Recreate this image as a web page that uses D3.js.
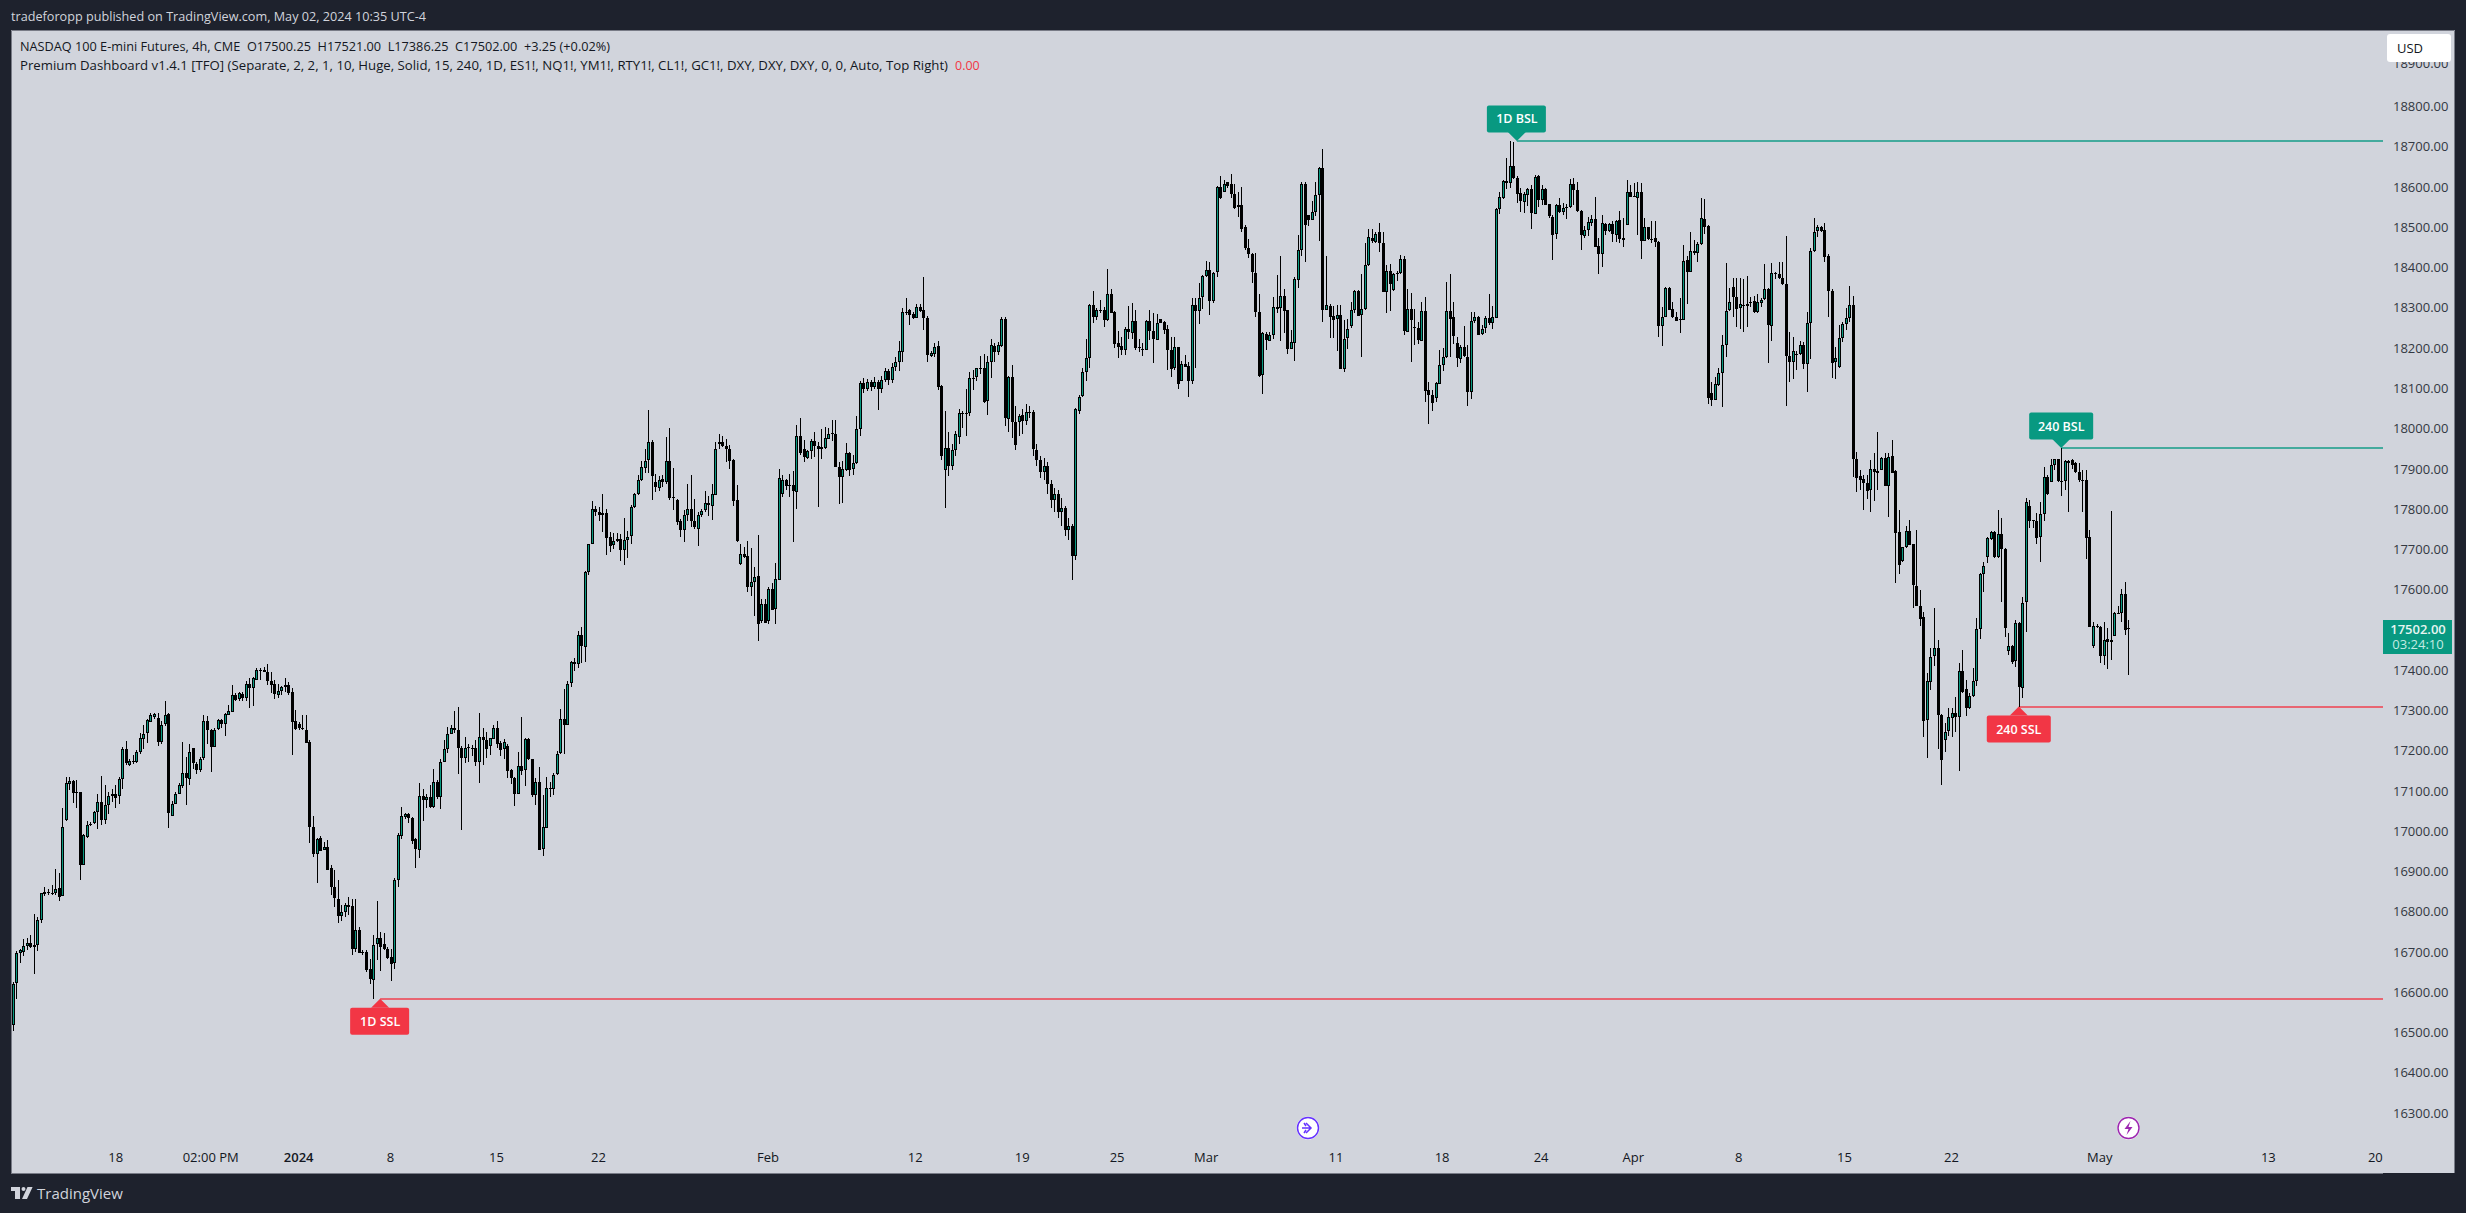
<!DOCTYPE html>
<html>
<head>
<meta charset="utf-8">
<title>NQ1! 4h</title>
<script src="https://d3js.org/d3.v7.min.js"></script>
<style>
  html, body { margin: 0; padding: 0; background: #1e222d; overflow: hidden; }
  text { font-family: "Open Sans", Roboto, sans-serif; }
</style>
</head>
<body>
<svg id="chart" width="2466" height="1213"></svg>
<script>
// each row is [open, close, high, low]
const decBars = [
[16516,16619,16622,16501],[16619,16694,16700,16580],[16694,16702,16706,16670],[16698,16713,16730,16687],[16713,16720,16731,16702],[16720,16710,16739,16708],[16715,16710,16793,16644],[16713,16776,16785,16700],[16775,16843,16845,16770],[16841,16847,16859,16837],
[16846,16843,16854,16840],[16845,16842,16863,16838],[16845,16855,16903,16840],[16857,16835,16893,16824],[16837,17008,17054,16837],[17023,17116,17131,17023],[17116,17123,17131,17100],[17123,17093,17125,17068],[17095,17094,17125,17056],[17095,16914,17096,16876],
[16914,16989,16990,16913],[16983,17014,17023,16980],[17013,17016,17020,17010],[17016,17044,17048,17016],[17044,17069,17091,17002],[17069,17025,17134,17012],[17025,17062,17112,17016],[17064,17086,17095,17041],[17086,17091,17103,17070],[17091,17081,17112,17055],
[17083,17126,17132,17064],[17126,17201,17207,17102],[17201,17167,17221,17161],[17161,17171,17178,17160],[17173,17172,17186,17165],[17170,17194,17199,17167],[17192,17228,17242,17189],[17227,17240,17261,17201],[17240,17273,17277,17217],[17270,17287,17290,17269],
[17281,17288,17292,17275],[17279,17219,17290,17209],[17219,17262,17270,17213],[17262,17285,17320,17260],[17288,17041,17291,17006],[17036,17066,17073,17036],[17066,17091,17095,17064],[17089,17112,17116,17089],[17108,17141,17218,17106],[17141,17128,17182,17062],
[17128,17194,17213,17112],[17203,17165,17205,17153],[17165,17150,17170,17139],[17150,17178,17182,17145],[17178,17271,17287,17174],[17271,17248,17284,17214],[17250,17209,17252,17145],[17209,17250,17255,17209],[17250,17273,17275,17250],[17273,17262,17276,17255],
[17262,17288,17292,17233],[17285,17295,17310,17285],[17295,17337,17360,17296],[17337,17325,17340,17321],[17325,17340,17344,17321],[17338,17327,17342,17322],[17327,17362,17370,17322],[17362,17351,17377,17304],[17351,17377,17380,17308],[17375,17399,17404,17375],
[17399,17398,17402,17373],[17399,17394,17406,17393],[17394,17371,17412,17360],[17371,17361,17393,17341],[17362,17336,17374,17325],[17336,17346,17364,17329],[17346,17356,17358,17335],[17356,17360,17379,17344],[17360,17341,17368,17337],[17344,17269,17352,17186],
[17271,17250,17298,17248],[17263,17253,17269,17250],[17255,17254,17285,17250],[17250,17217,17285,17217],[17218,17008,17224,16967],[17008,16941,17036,16934],[16942,16979,16981,16869],[16981,16949,16985,16949],[16950,16957,16971,16950],[16957,16901,16975,16901],
[16905,16859,16913,16838],[16858,16830,16900,16810],[16830,16788,16876,16770],[16788,16797,16814,16775],[16797,16815,16818,16785],[16815,16811,16833,16789],[16811,16704,16830,16691],[16705,16751,16830,16698],[16751,16695,16760,16694],[16697,16695,16702,16690],
[16698,16654,16702,16648],[16656,16630,16681,16617],[16630,16716,16739,16581],[16718,16733,16823,16677],[16733,16710,16747,16650],[16717,16704,16745,16702],[16706,16683,16710,16681],[16684,16667,16706,16626],[16669,16876,16880,16655],[16875,16988,16992,16859],
[16986,17035,17058,16978],[17033,17041,17043,17027],[17041,17031,17043,17018],[17031,16975,17033,16965],[16977,16952,16980,16906],[16952,17086,17116,16932],[17086,17076,17103,17023],[17076,17083,17089,17056],[17083,17058,17112,17054],[17058,17120,17153,17056],
[17120,17083,17124,17077],[17083,17170,17178,17052],[17170,17202,17224,17170],[17202,17240,17257,17192]
];

const janBars = [
[17240,17255,17261,17240],[17255,17250,17296,17242],[17250,17205,17305,17139],[17205,17180,17208,17000],[17180,17205,17232,17166],[17206,17205,17213,17170],[17205,17204,17211,17184],[17205,17170,17225,17160],[17170,17232,17290,17116],[17232,17225,17253,17162],
[17225,17203,17244,17180],[17208,17228,17230,17186],[17228,17255,17261,17228],[17255,17215,17271,17203],[17217,17200,17222,17184],[17200,17218,17226,17178],[17209,17148,17213,17130],[17149,17129,17153,17115],[17129,17090,17133,17060],[17090,17160,17195,17090],
[17160,17148,17280,17137],[17148,17226,17228,17110],[17226,17176,17230,17174],[17176,17087,17178,17083],[17087,17119,17130,17062],[17119,16951,17156,16950],[16953,17007,17088,16936],[17006,17106,17131,17005],[17105,17104,17120,17083],[17104,17138,17142,17087],
[17138,17188,17197,17137],[17190,17275,17302,17190],[17275,17261,17350,17189],[17262,17364,17371,17262],[17364,17417,17420,17356],[17417,17412,17428,17396],[17412,17484,17494,17402],[17484,17456,17504,17416],[17456,17642,17644,17418],[17642,17712,17712,17634],
[17713,17799,17817,17713],[17799,17791,17805,17780],[17791,17783,17803,17769],[17783,17789,17835,17741],[17789,17726,17799,17683],[17727,17704,17741,17692],[17710,17719,17737,17698],[17719,17724,17737,17716],[17724,17697,17735,17668],[17697,17722,17775,17659],
[17722,17729,17743,17677],[17729,17802,17808,17712],[17802,17834,17838,17801],[17834,17869,17882,17833],[17869,17901,17917,17867],[17900,17918,17946,17886],[17918,17963,18044,17886],[17963,17878,17969,17820],[17864,17851,17884,17841],[17851,17871,17880,17842],
[17873,17866,17881,17853],[17866,17918,17977,17861],[17918,17826,18000,17820],[17828,17826,17899,17795],[17820,17766,17822,17758],[17768,17746,17774,17729],[17746,17784,17795,17716],[17781,17797,17861,17768],[17797,17766,17882,17754],[17768,17753,17822,17747],
[17750,17784,17791,17706],[17784,17794,17799,17778],[17794,17812,17842,17791],[17812,17806,17831,17780],[17806,17836,17860,17770],[17834,17948,17965,17832],[17960,17965,17985,17948],[17965,17955,17979,17952],[17955,17947,17971,17915],[17948,17918,17957,17896],
[17919,17818,17921,17805],[17820,17718,17857,17716],[17662,17687,17711,17659],[17687,17679,17704,17675],[17681,17605,17718,17592],[17605,17617,17702,17582],[17617,17630,17653,17532],[17632,17513,17733,17470],[17520,17563,17574,17515],[17563,17517,17574,17517],
[17520,17600,17603,17512],[17600,17549,17614,17549],[17549,17623,17663,17512],[17623,17876,17896,17621],[17835,17869,17882,17828],[17869,17855,17872,17845],[17858,17857,17884,17827],[17858,17843,17893,17716],[17839,17978,18006,17798],[17978,17935,18025,17933],
[17946,17925,17969,17914],[17925,17943,17944,17922],[17943,17967,17971,17923],[17967,17954,17988,17927],[17954,17946,17965,17803],[17946,17951,17996,17923],[17947,17973,18002,17946],[17973,17985,18000,17971],[17986,17985,18019,17967],[17985,17903,18019,17901],
[17903,17878,17915,17810],[17878,17898,17917,17813],[17894,17936,17961,17893],[17937,17896,17940,17879],[17896,17911,17933,17883],[17911,17996,18029,17909],[17996,18110,18115,17978],
[18110,18095,18122,18085],[18095,18112,18120,18090],[18112,18100,18118,18090],[18100,18112,18125,18095],[18112,18095,18118,18044],[18095,18118,18128,18085],[18118,18140,18148,18112],[18140,18118,18145,18105],[18118,18150,18160,18110],[18150,18162,18175,18140],[18162,18190,18215,18140]
];

const febBars = [
[18188,18288,18296,18163],[18288,18287,18321,18279],[18292,18279,18294,18255],[18282,18273,18288,18269],[18273,18300,18308,18273],[18300,18291,18307,18288],[18291,18270,18375,18242],[18271,18178,18277,18164],[18178,18185,18191,18176],[18184,18201,18209,18176],
[18202,18101,18215,18093],[18103,17930,18105,17920],[17895,17950,18041,17800],[17950,17905,17990,17880],[17905,17945,17960,17895],[17945,17985,17992,17930],[17975,18035,18047,17960],[18035,18037,18042,18000],[18037,18036,18097,17980],[18036,18122,18138,18030],
[18122,18120,18143,18093],[18124,18147,18149,18116],[18147,18146,18178,18133],[18147,18062,18184,18060],[18064,18162,18177,18031],[18162,18205,18219,18124],[18202,18188,18209,18164],[18188,18205,18212,18180],[18202,18269,18275,18199],[18269,18022,18275,18004],
[18021,18125,18128,17990],[18125,18014,18155,17975],[18014,17957,18053,17945],[18014,18029,18033,17980],[18031,18017,18045,17985],[18017,18039,18058,18006],[18039,18038,18053,18025],[18038,17945,18043,17930],[17945,17920,17960,17905],[17920,17890,17930,17875],
[17890,17905,17925,17870],[17905,17860,17915,17835],[17860,17820,17870,17800],[17820,17835,17850,17790],[17835,17790,17845,17775],[17790,17800,17825,17755],[17800,17745,17805,17730],[17745,17755,17775,17720],[17755,17680,17760,17622],[17680,18045,18049,17670],
[18042,18077,18081,18033],[18077,18137,18147,18077],[18136,18172,18220,18116],[18172,18304,18308,18147],[18304,18273,18339,18260],[18273,18291,18296,18267],[18291,18290,18317,18285],[18291,18267,18300,18250],[18267,18332,18395,18265],[18332,18285,18343,18285],
[18288,18209,18290,18198],[18211,18201,18240,18173],[18202,18191,18226,18180],[18191,18244,18250,18180],[18244,18236,18302,18219],[18234,18265,18310,18219],[18265,18197,18292,18193],[18201,18200,18220,18188],[18196,18195,18209,18178],[18194,18265,18267,18192],
[18265,18241,18292,18217],[18240,18219,18284,18161],[18219,18261,18282,18217],[18269,18260,18270,18259],[18262,18242,18265,18232],[18244,18191,18255,18144],[18192,18145,18224,18126],[18146,18199,18224,18144],[18199,18108,18201,18096],[18118,18159,18165,18116],
[18159,18151,18180,18150],[18153,18116,18163,18077],[18116,18304,18322,18108],[18304,18288,18322,18149],[18288,18321,18360,18257],[18325,18376,18379,18294],[18375,18391,18414,18374],[18391,18314,18412,18279],[18314,18383,18387,18310],[18385,18597,18600,18375],
[18597,18570,18625,18568],[18586,18606,18615,18586],[18609,18600,18611,18594],[18604,18579,18630,18571],[18579,18545,18604,18543],[18546,18552,18586,18522],[18552,18493,18598,18486],[18497,18444,18503,18441],[18445,18429,18468,18420],[18430,18385,18434,18360],
[18385,18288,18434,18275],[18288,18128,18333,18126],[18129,18234,18238,18083],[18232,18216,18238,18192],[18216,18230,18238,18216],[18230,18300,18325,18220],[18300,18295,18379,18284],[18298,18328,18426,18216],[18328,18290,18343,18235],[18291,18195,18292,18183],
[18195,18212,18242,18195],[18209,18369,18373,18166],[18368,18442,18478,18347],[18442,18605,18611,18426],[18605,18503,18611,18412],[18527,18515,18528,18500],[18517,18536,18563,18515],[18534,18577,18609,18526],[18578,18645,18648,18463],[18645,18292,18693,18263],
[18292,18304,18426,18292],[18302,18275,18308,18223],[18277,18267,18302,18223],[18269,18279,18304,18191],[18279,18146,18304,18146],[18146,18221,18267,18139],[18221,18244,18269,18194]
];

const marBars = [
[18253,18292,18313,18248],[18292,18339,18342,18284],[18339,18278,18342,18278],[18278,18294,18382,18176],[18294,18403,18458,18292],[18403,18473,18493,18401],[18470,18462,18493,18459],[18462,18482,18487,18458],[18486,18459,18507,18437],[18459,18338,18487,18338],
[18338,18389,18404,18284],[18389,18356,18406,18290],[18342,18381,18383,18340],[18381,18383,18388,18364],[18382,18418,18428,18382],[18418,18238,18425,18230],[18237,18294,18343,18237],[18294,18266,18334,18164],[18251,18248,18294,18205],[18247,18216,18263,18208],
[18216,18290,18313,18216],[18290,18092,18325,18064],[18093,18081,18112,18008],[18081,18062,18093,18042],[18072,18110,18112,18064],[18110,18156,18193,18108],[18154,18175,18197,18141],[18175,18290,18361,18172],[18290,18271,18382,18176],[18274,18226,18313,18207],
[18209,18171,18226,18151],[18170,18199,18205,18160],[18199,18176,18253,18176],[18176,18089,18205,18054],[18089,18265,18288,18070],[18264,18274,18288,18259],[18274,18230,18276,18230],[18233,18246,18255,18231],[18246,18271,18277,18236],[18271,18259,18333,18255],
[18259,18274,18302,18246],[18272,18542,18545,18271],[18541,18572,18586,18530],[18570,18612,18615,18569],[18612,18607,18669,18592],[18608,18649,18712,18596],[18649,18619,18710,18617],[18619,18580,18625,18557],[18582,18561,18596,18536],[18561,18580,18586,18532],
[18578,18592,18594,18550],[18592,18532,18603,18493],[18532,18623,18627,18531],[18625,18565,18627,18549],[18565,18592,18603,18553],[18592,18553,18594,18553],[18555,18524,18556,18521],[18524,18479,18528,18416],[18479,18552,18555,18468],[18552,18534,18571,18532],
[18534,18545,18557,18528],[18548,18546,18555,18518],[18547,18604,18617,18545],[18604,18590,18619,18553],[18590,18539,18611,18536],[18539,18479,18541,18441],[18478,18492,18501,18470],[18492,18511,18524,18476],[18509,18518,18528,18501],[18518,18449,18572,18449],
[18451,18430,18470,18381],[18430,18508,18528,18400],[18505,18487,18507,18478],[18487,18505,18509,18487],[18505,18480,18514,18462],[18480,18514,18516,18462],[18516,18470,18538,18458],[18470,18464,18520,18449],[18505,18586,18615,18503],[18586,18574,18603,18572],
[18575,18574,18607,18572],[18572,18586,18611,18479],[18586,18464,18607,18418],[18464,18498,18520,18464],[18498,18467,18499,18467],[18469,18468,18512,18458],[18470,18460,18512,18449],[18461,18253,18463,18226],[18253,18275,18300,18203],[18275,18346,18349,18275],
[18346,18292,18349,18292],[18294,18275,18313,18271],[18275,18265,18288,18264],[18270,18268,18321,18234],[18268,18415,18454,18267],[18416,18387,18425,18307],[18387,18439,18486,18386],[18439,18433,18466,18429],[18433,18456,18462,18412],[18456,18520,18570,18453],
[18518,18499,18568,18482],[18501,18073,18503,18059],[18085,18068,18114,18053],[18068,18108,18126,18068],[18106,18136,18147,18104],[18136,18205,18230,18052],[18205,18290,18408,18176],[18290,18311,18346,18290],[18348,18323,18371,18274],[18325,18296,18371,18249],
[18296,18306,18371,18246],[18304,18303,18368,18238],[18300,18306,18376,18251],[18311,18310,18325,18300],[18315,18287,18327,18285],[18287,18313,18331,18285],[18311,18318,18321,18300],[18318,18343,18406,18316],[18343,18253,18346,18161],[18253,18385,18408,18216],
[18384,18383,18387,18370],[18381,18371,18412,18369],[18371,18356,18412,18354],[18356,18178,18476,18054],[18179,18164,18238,18114],[18164,18191,18224,18120],[18184,18183,18191,18143],[18181,18204,18214,18181]
];

const aprBars = [
[18205,18158,18212,18146],[18159,18261,18286,18088],[18261,18439,18445,18170],[18437,18485,18521,18435],[18487,18497,18503,18474],[18497,18488,18501,18487],[18491,18425,18507,18412],[18426,18338,18430,18275],[18339,18161,18343,18122],[18161,18172,18201,18121],
[18150,18222,18255,18149],[18222,18257,18263,18213],[18257,18271,18296,18242],[18271,18304,18352,18263],[18304,17921,18327,17878],[17921,17874,17939,17841],[17880,17870,17895,17845],[17872,17863,17882,17795],[17863,17843,17882,17823],[17843,17896,17920,17791],
[17896,17888,17936,17818],[17888,17893,17988,17845],[17895,17924,17928,17895],[17925,17856,17936,17856],[17856,17928,17936,17779],[17929,17888,17969,17888],[17892,17739,17895,17615],[17741,17660,17795,17636],[17667,17703,17704,17667],[17703,17742,17756,17701],
[17742,17708,17771,17708],[17710,17607,17712,17553],[17607,17558,17746,17557],[17558,17525,17597,17506],[17530,17272,17541,17232],[17272,17370,17390,17180],[17370,17431,17452,17348],[17431,17452,17551,17408],[17452,17285,17472,17201],[17286,17175,17288,17111],
[17224,17243,17267,17195],[17245,17280,17303,17234],[17278,17290,17303,17232],[17290,17280,17330,17245],[17280,17395,17415,17148],[17395,17342,17448,17340],[17350,17302,17373,17284],[17302,17333,17340,17300],[17333,17371,17402,17332],[17371,17499,17526,17358],
[17499,17636,17638,17475],[17635,17656,17667,17592],[17679,17725,17729,17664],[17723,17740,17744,17721],[17740,17679,17742,17675],[17679,17735,17795,17675],[17735,17698,17775,17568],[17698,17503,17700,17481],[17446,17458,17491,17435],[17458,17419,17460,17414],
[17419,17514,17522,17405],[17514,17354,17518,17307],[17354,17565,17578,17329],[17565,17814,17826,17493],[17806,17769,17820,17750],[17770,17769,17771,17750],[17769,17727,17787,17711],[17727,17785,17816,17667],[17785,17877,17903,17769],[17877,17835,17882,17833],
[17864,17907,17921,17864],[17907,17921,17921,17895],[17921,17866,17921,17866],[17867,17866,17949,17830],[17866,17916,17920,17845],[17916,17910,17920,17791],[17920,17908,17921,17897],[17911,17888,17915,17886],[17890,17870,17911,17866],[17871,17870,17895,17791],
[17870,17727,17895,17673],[17728,17505,17746,17505],[17458,17508,17518,17453],[17506,17505,17512,17501],[17505,17433,17507,17416],[17433,17472,17518,17410],[17474,17467,17501,17400],[17467,17472,17793,17423],[17483,17539,17543,17482],[17539,17538,17558,17537],
[17538,17586,17599,17518],[17586,17496,17617,17485],[17500.25,17502,17521,17386.25]
];

const priceTicks = d3.range(16300, 19000, 100);
const tickBars = [29, 55.9, 80.8, 106.8, 136.8, 165.7, 213.8, 255.5, 285.8, 312.7, 337.9, 374.7, 404.7, 432.7, 458.8, 488.6, 518.5, 548.8, 590.8, 638.5, 668.8];
const tickLabels = ["18", "02:00 PM", "2024", "8", "15", "22", "Feb", "12", "19", "25", "Mar", "11", "18", "24", "Apr", "8", "15", "22", "May", "13", "20"];

const levelNames = ["1D BSL", "240 BSL", "240 SSL", "1D SSL"];
const levelPrices = [18712, 17949, 17307, 16581];
const levelShift = [2, 0, 0, 2]; // the daily labels sit two bars right of the extreme

const lastPrice = 17502;
const countdown = "03:24:10";
const headerText = "tradeforopp published on TradingView.com, May 02, 2024 10:35 UTC-4";
const legendMain = "NASDAQ 100 E-mini Futures, 4h, CME  O17500.25  H17521.00  L17386.25  C17502.00  +3.25 (+0.02%)";
const legendStudy = "Premium Dashboard v1.4.1 [TFO] (Separate, 2, 2, 1, 10, Huge, Solid, 15, 240, 1D, ES1!, NQ1!, YM1!, RTY1!, CL1!, GC1!, DXY, DXY, DXY, 0, 0, Auto, Top Right)";

const UP = "#089981", DOWN = "#f23645", BG = "#1e222d", PANEL = "#d1d4dc", INK = "#131722";

const segments = [decBars, janBars, febBars, marBars, aprBars];
const bars = segments.flat().map(function(d) {
  return {open: d[0], close: d[1], high: d[2], low: d[3]};
});

// bar index to pixel, pinned at the start of each segment so a miscount cannot drift far
const segStart = [0];
segments.forEach(function(s) { segStart.push(segStart[segStart.length - 1] + s.length); });
segStart[segStart.length - 1] -= 1;

const xScale = d3.scaleLinear()
  .domain(segStart)
  .range([12.7, 450.8, 902.3, 1350.7, 1803.3, 2128.3]);

const yScale = d3.scaleLinear()
  .domain([16300, 18800])
  .range([1112, 105.5]);

const svg = d3.select("#chart");

svg.append("rect").attr("width", 2466).attr("height", 1213).attr("fill", BG);

// pane
svg.append("rect")
  .attr("x", 11).attr("y", 30)
  .attr("width", 2444).attr("height", 1143)
  .attr("fill", PANEL);
svg.append("path")
  .attr("d", "M11.5,1173V30.5H2454.5V1173")
  .attr("fill", "none")
  .attr("stroke", "#787b86");
svg.append("path")
  .attr("d", "M11,1173.5H2383")
  .attr("stroke", "#787b86");

svg.append("text")
  .attr("x", 11).attr("y", 21)
  .attr("fill", PANEL)
  .attr("textLength", 415)
  .attr("lengthAdjust", "spacingAndGlyphs")
  .style("font-size", "12.5px")
  .text(headerText);

svg.append("text")
  .attr("x", 20).attr("y", 51)
  .attr("fill", INK)
  .attr("xml:space", "preserve")
  .attr("textLength", 590)
  .attr("lengthAdjust", "spacingAndGlyphs")
  .style("font-size", "12.5px")
  .text(legendMain);

svg.append("text")
  .attr("x", 20).attr("y", 70)
  .attr("fill", INK)
  .attr("textLength", 928)
  .attr("lengthAdjust", "spacingAndGlyphs")
  .style("font-size", "12.5px")
  .text(legendStudy);

svg.append("text")
  .attr("x", 955).attr("y", 70)
  .attr("fill", DOWN)
  .style("font-size", "12.5px")
  .text("0.00");

// price axis
var yAxis = d3.axisRight(yScale)
  .tickValues(priceTicks)
  .tickSize(0)
  .tickFormat(d3.format(".2f"));

var yG = svg.append("g")
  .attr("transform", "translate(2390,1)")
  .call(yAxis);
yG.select(".domain").remove();
yG.selectAll("text")
  .attr("x", 3)
  .attr("fill", "#333842")
  .style("font-family", '"Open Sans", Roboto, sans-serif')
  .style("font-size", "13px");
// the top label is mostly hidden by the currency button
yG.selectAll(".tick").filter(function(d) { return d === 18900; })
  .select("text")
  .attr("y", -3);

svg.append("rect")
  .attr("x", 2387).attr("y", 34)
  .attr("width", 64).attr("height", 28)
  .attr("rx", 3)
  .attr("fill", "#ffffff");
svg.append("text")
  .attr("x", 2397).attr("y", 53)
  .attr("fill", INK)
  .style("font-size", "13px")
  .text("USD");

// time axis
var xAxis = d3.axisBottom(xScale)
  .tickValues(tickBars)
  .tickSize(0)
  .tickFormat(function(d, i) { return tickLabels[i]; });

var xG = svg.append("g")
  .attr("transform", "translate(0,1149)")
  .call(xAxis);
xG.select(".domain").remove();
xG.selectAll("text")
  .attr("y", 0)
  .attr("dy", "1em")
  .attr("fill", INK)
  .style("font-family", '"Open Sans", Roboto, sans-serif')
  .style("font-size", "13px")
  .style("font-weight", function(d, i) { return tickLabels[i] === "2024" ? 600 : 400; });

// levels go under the candles
var levels = levelNames.map(function(name, i) {
  var isHigh = name.indexOf("BSL") > -1;
  var bar = d3.leastIndex(bars, function(b) {
    return Math.abs((isHigh ? b.high : b.low) - levelPrices[i]);
  });
  return {name: name, price: levelPrices[i], bar: bar + levelShift[i], isHigh: isHigh};
});

svg.selectAll(".level")
  .data(levels)
  .enter().append("line")
  .attr("class", "level")
  .attr("x1", function(d) { return xScale(d.bar); })
  .attr("x2", 2383)
  .attr("y1", function(d) { return Math.round(yScale(d.price)); })
  .attr("y2", function(d) { return Math.round(yScale(d.price)); })
  .attr("stroke", function(d) { return d.isHigh ? UP : DOWN; })
  .attr("stroke-opacity", 0.7)
  .attr("stroke-width", 2);

// candles
var candle = svg.append("g").attr("shape-rendering", "crispEdges")
  .selectAll("g")
  .data(bars)
  .enter().append("g");

function cx(d, i) { return Math.round(xScale(i)); }

candle.append("rect")
  .attr("x", function(d, i) { return cx(d, i); })
  .attr("width", 1)
  .attr("y", function(d) { return yScale(d.high); })
  .attr("height", function(d) { return Math.max(1, yScale(d.low) - yScale(d.high)); })
  .attr("fill", "#000000");

candle.append("rect")
  .attr("x", function(d, i) { return cx(d, i) - 1; })
  .attr("width", 3)
  .attr("y", function(d) { return Math.round(yScale(Math.max(d.open, d.close))); })
  .attr("height", function(d) { return Math.max(1, Math.round(Math.abs(yScale(d.open) - yScale(d.close)))); })
  .attr("fill", "#000000");

candle.filter(function(d) { return d.close > d.open && yScale(d.open) - yScale(d.close) > 2; })
  .append("rect")
  .attr("x", function(d) { return Math.round(xScale(bars.indexOf(d))); })
  .attr("width", 1)
  .attr("y", function(d) { return Math.round(yScale(d.close)) + 1; })
  .attr("height", function(d) { return Math.round(yScale(d.open) - yScale(d.close)) - 2; })
  .attr("fill", UP);

// level labels
var label = svg.selectAll(".tag")
  .data(levels)
  .enter().append("g")
  .attr("class", "tag")
  .attr("transform", function(d) {
    return "translate(" + xScale(d.bar) + "," + yScale(d.price) + ")";
  });

label.append("path")
  .attr("d", function(d) { return d.isHigh ? "M-9,-9L0,0L9,-9Z" : "M-9,9L0,0L9,9Z"; })
  .attr("fill", function(d) { return d.isHigh ? UP : DOWN; });

label.append("rect")
  .attr("x", function(d) { return d.name.length > 6 ? -32 : -30; })
  .attr("width", function(d) { return d.name.length > 6 ? 64 : 59; })
  .attr("y", function(d) { return d.isHigh ? -35.5 : 9; })
  .attr("height", 27)
  .attr("rx", 2)
  .attr("fill", function(d) { return d.isHigh ? UP : DOWN; });

label.append("text")
  .attr("text-anchor", "middle")
  .attr("y", function(d) { return d.isHigh ? -17.5 : 27; })
  .attr("fill", "#ffffff")
  .style("font-size", "12.5px")
  .style("font-weight", 600)
  .text(function(d) { return d.name; });

// last price tag
svg.append("rect")
  .attr("x", 2383).attr("y", 620)
  .attr("width", 69).attr("height", 34)
  .attr("fill", UP);
svg.append("text")
  .attr("x", 2418).attr("y", 634)
  .attr("text-anchor", "middle")
  .attr("fill", "#e6f5f1")
  .style("font-size", "13px")
  .style("font-weight", 600)
  .text(d3.format(".2f")(lastPrice));
svg.append("text")
  .attr("x", 2418).attr("y", 649)
  .attr("text-anchor", "middle")
  .attr("fill", "#c4ebe2")
  .style("font-size", "13px")
  .text(countdown);

// event badges on the time scale
var dividend = svg.append("g").attr("transform", "translate(1308,1128)");
dividend.append("circle").attr("r", 11.5).attr("fill", "#ffffff");
dividend.append("circle").attr("r", 10.5).attr("fill", "none").attr("stroke", "#6633ff").attr("stroke-width", 1.5);
dividend.append("path")
  .attr("d", "M-2,-5L3,0L-2,5M-6,0H3M-4,-5L-2,-2M-4,5L-2,2")
  .attr("fill", "none").attr("stroke", "#6633ff").attr("stroke-width", 1.5);

var flash = svg.append("g").attr("transform", "translate(2128.5,1128)");
flash.append("circle").attr("r", 11.5).attr("fill", "#ffffff");
flash.append("circle").attr("r", 10.5).attr("fill", "none").attr("stroke", "#9c27b0").attr("stroke-width", 1.5);
flash.append("path")
  .attr("d", "M2,-7L-4,1H0L-2,7L4,-1H0Z")
  .attr("fill", "#9c27b0");

// footer logo
svg.append("path")
  .attr("d", "M11,1187H20V1199H15V1191H11ZM27.5,1187H32.6L27,1199H22Z")
  .attr("fill", PANEL);
svg.append("circle").attr("cx", 23.5).attr("cy", 1189).attr("r", 2).attr("fill", PANEL);
svg.append("text")
  .attr("x", 37).attr("y", 1199)
  .attr("fill", PANEL)
  .style("font-size", "15px")
  .text("TradingView");
</script>
</body>
</html>
